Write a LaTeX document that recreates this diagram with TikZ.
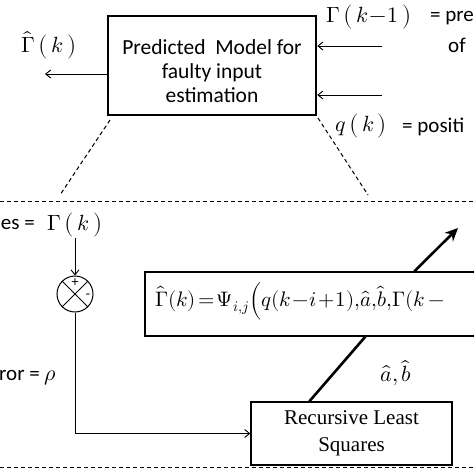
\documentclass[tikz,border=0pt]{standalone}
\usepackage{fontspec}
\usepackage{unicode-math}
\setmathfont{latinmodern-math.otf}
\newfontfamily\calfont{Carlito}
\newfontfamily\rlsfont{Liberation Serif}
\usetikzlibrary{arrows.meta,calc}
\begin{document}
\begin{tikzpicture}[x=1pt,y=-1pt,
  thinarrow/.style={-{Straight Barb[length=5pt,width=8pt]}, line width=0.9pt},
  calibri/.style={font=\calfont\fontsize{21.5}{24}\selectfont},
  lbl/.style={font=\calfont\fontsize{21}{22}\selectfont, inner sep=0pt},
  mathlbl/.style={font=\fontsize{22}{26}\selectfont, inner sep=0pt},
  formulastyle/.style={font=\fontsize{21}{25}\selectfont, inner sep=0pt},
  dashline/.style={dash pattern=on 4pt off 3pt, line width=1pt},
  thickline/.style={line width=2.6pt}]
\useasboundingbox (0,0) rectangle (474,474);
\clip (0,0) rectangle (474,474);
\fill[white] (0,0) rectangle (474,474);

% top model box
\node[draw, line width=2.5pt, minimum width=208pt, minimum height=99pt] (pm) at (212,65.5) {};
\node[align=center, calibri, inner sep=0pt] (pmtext) at (212,71) {Predicted\ \ Model for\\faulty input\\estimation};
\node[mathlbl] (ghat) at (49,46) {$\hat\Gamma\,\bigl(\,k\,\bigr)$};
\coordinate (outend) at (45,74);
\draw[thinarrow] (pm.west |- outend) -- (outend);
\coordinate (in1) at (382,46);
\coordinate (in2) at (382,95);
\draw[thinarrow] (in1) -- (in1 -| pm.east);
\draw[thinarrow] (in2) -- (in2 -| pm.east);
\node[mathlbl, anchor=west] (gkm1) at (326,17) {$\Gamma\,\bigl(\,k\!-\!1\,\bigr)$};
\node[lbl, anchor=west] (pre) at (430,18) {= pre};
\node[lbl, anchor=west] (of) at (448,45) {of};
\node[mathlbl, anchor=west] (qk) at (335,126) {$q\,\bigl(\,k\,\bigr)$};
\node[lbl, anchor=west] (pos) at (402,127) {= positi};

% zoom dashed lines
\coordinate (d1a) at (110,120);
\coordinate (d1b) at (60,195);
\coordinate (d2a) at (318,118);
\coordinate (d2b) at (368,195);
\draw[dashline] (d1a) -- (d1b);
\draw[dashline] (d2a) -- (d2b);
\coordinate (h1a) at (0,201);
\coordinate (h1b) at (474,201);
\coordinate (h2a) at (0,467);
\coordinate (h2b) at (474,467);
\draw[dashline] (h1a) -- (h1b);
\draw[dashline] (h2a) -- (h2b);

% lower part
\node[mathlbl] (gk) at (75,225) {$\Gamma\,\bigl(\,k\,\bigr)$};
\node[lbl, anchor=east] (es) at (35,224) {es =};
\node[draw, circle, minimum size=36pt, inner sep=0pt, line width=1pt] (sum) at (75,294) {};
\draw[line width=0.8pt] (sum.north east) -- (sum.south west);
\draw[line width=0.8pt] (sum.north west) -- (sum.south east);
\node[font=\calfont\fontsize{14}{14}\selectfont, inner sep=0pt] (plus) at (75,283) {+};
\node[font=\calfont\fontsize{14}{14}\selectfont, inner sep=0pt] (minus) at (88,296) {-};
\draw[thinarrow] (gk.south) -- (sum.north);

\node[draw, line width=1.3pt, minimum width=201pt, minimum height=63pt, align=center, font=\rlsfont\fontsize{21}{27}\selectfont] (rls) at (351.5,433.5) {Recursive Least\\Squares};
\draw[thinarrow] (sum.south) |- (rls.west);
\node[lbl, anchor=west] (err) at (-1,378) {ror = \fontsize{22}{24}\selectfont$\rho$};

\node[draw, line width=1.3pt, minimum width=345pt, minimum height=64pt] (fbox) at (317.5,304) {};
\node[formulastyle, anchor=west] (formula) at (155,301) {$\hat\Gamma(k)\!=\!\Psi_{i,j}\Bigl(q(k\!-\!i\!+\!1){,}\hat a{,}\hat b{,}\Gamma(k\,{-}$};

\draw[thickline] ($(rls.north west)+(59,0)$) -- ($(fbox.south west)+(221,0)$);
\node[mathlbl] (ab) at (396,373) {$\hat a{,}\,\hat b$};
\coordinate (outtip) at (458,228);
\draw[thickline, -{Stealth[length=13pt,width=12pt]}] ($(fbox.north west)+(270,0)$) -- (outtip);
\end{tikzpicture}
\end{document}
